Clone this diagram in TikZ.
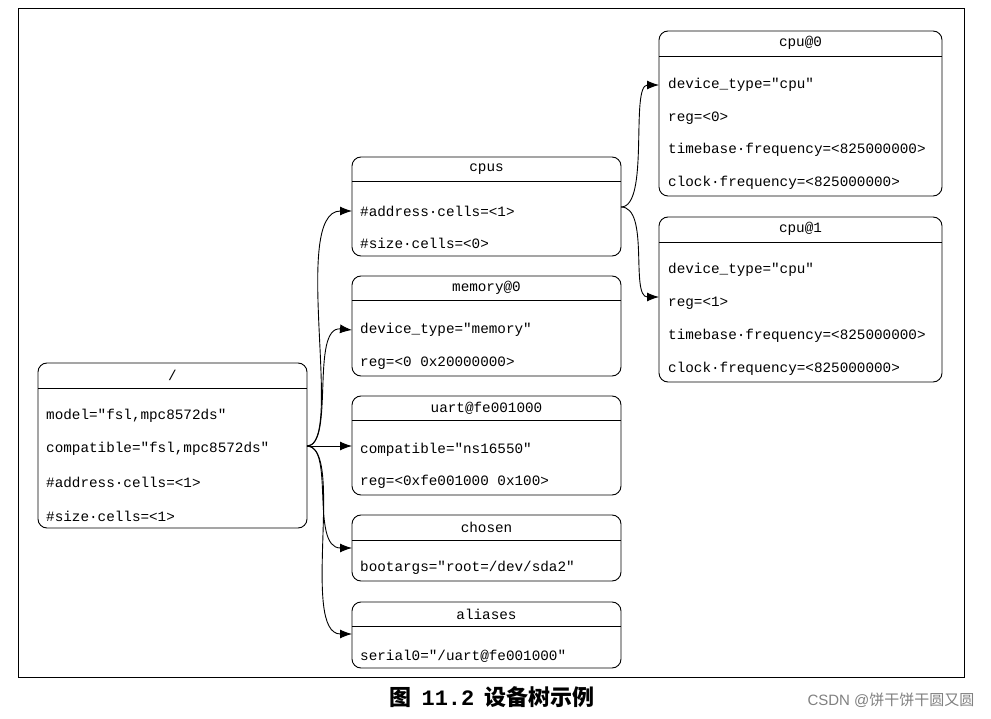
\documentclass[tikz,border=0pt]{standalone}
\usepackage{fontspec}
\setmonofont{Liberation Mono}
\newfontfamily\cjk{Noto Sans CJK SC}
\newfontfamily\csdnf{Liberation Sans}
\usetikzlibrary{arrows.meta}
\begin{document}
\begin{tikzpicture}[x=1pt,y=-1pt,
  box/.style={draw,rounded corners=9pt,line width=0.9pt},
  txt/.style={anchor=west,font=\ttfamily\fontsize{14.3}{15}\selectfont,inner sep=0},
  ttl/.style={anchor=center,font=\ttfamily\fontsize{14.3}{15}\selectfont,inner sep=0},
  arr/.style={line width=0.9pt,-{Latex[length=12pt,width=9pt]}}]
\useasboundingbox (0,0) rectangle (991,719);
\draw[line width=0.9pt] (18,8) rectangle (964,677);
\newcommand\dtbox[6]{\draw[box] (#2,#3) rectangle (#4,#5); \draw[line width=0.9pt] (#2,#6) -- (#4,#6);}
\dtbox{root}{38}{363}{307}{528}{388}
\node[ttl] (root) at (172.5,375) {/};
\node[txt] (r1) at (46,416) {model="fsl,mpc8572ds"};
\node[txt] (r2) at (46,449) {compatible="fsl,mpc8572ds"};
\node[txt] (r3) at (46,482) {\#address·cells=<1>};
\node[txt] (r4) at (46,516) {\#size·cells=<1>};
\coordinate (ro) at (307,446);
\dtbox{cpus}{352}{157}{621}{256}{181}
\node[ttl] (cpus) at (486.5,169) {cpus};
\node[txt] (c1) at (360,211) {\#address·cells=<1>};
\node[txt] (c2) at (360,243) {\#size·cells=<0>};
\dtbox{mem}{352}{276}{621}{376}{300}
\node[ttl] (mem) at (486.5,288) {memory@0};
\node[txt] (m1) at (360,330) {device\_type="memory"};
\node[txt] (m2) at (360,363) {reg=<0 0x20000000>};
\dtbox{uart}{352}{396}{621}{495}{420}
\node[ttl] (uart) at (486.5,408) {uart@fe001000};
\node[txt] (u1) at (360,450) {compatible="ns16550"};
\node[txt] (u2) at (360,482) {reg=<0xfe001000 0x100>};
\dtbox{ch}{352}{515}{621}{581}{540}
\node[ttl] (chosen) at (486.5,527) {chosen};
\node[txt] (h1) at (360,568) {bootargs="root=/dev/sda2"};
\dtbox{al}{352}{602}{621}{668}{626}
\node[ttl] (aliases) at (486.5,614) {aliases};
\node[txt] (a1) at (360,656) {serial0="/uart@fe001000"};
\dtbox{c0}{659}{31}{942}{196}{56}
\node[ttl] (cpu0) at (800.5,43) {cpu@0};
\node[txt] (p1) at (668,85) {device\_type="cpu"};
\node[txt] (p2) at (668,118) {reg=<0>};
\node[txt] (p3) at (668,150) {timebase·frequency=<825000000>};
\node[txt] (p4) at (668,183) {clock·frequency=<825000000>};
\dtbox{c1}{659}{217}{942}{382}{242}
\node[ttl] (cpu1) at (800.5,229) {cpu@1};
\node[txt] (q1) at (668,270) {device\_type="cpu"};
\node[txt] (q2) at (668,303) {reg=<1>};
\node[txt] (q3) at (668,336) {timebase·frequency=<825000000>};
\node[txt] (q4) at (668,369) {clock·frequency=<825000000>};
\coordinate (co) at (621,207);
\draw[arr] (ro) .. controls (345,446) and (290,211) .. ([xshift=-8pt]c1.west);
\draw[arr] (ro) .. controls (335,446) and (310,326) .. ([xshift=-8pt]m1.west);
\draw[arr] (ro) -- ([xshift=-8pt]ro-|u1.west);
\draw[arr] (ro) .. controls (335,446) and (310,548) .. ([xshift=-8pt]h1.west|-0,548);
\draw[arr] (ro) .. controls (345,446) and (300,634) .. ([xshift=-8pt]a1.west|-0,634);
\draw[arr] (co) .. controls (650,207) and (630,85) .. ([xshift=-9pt]p1.west);
\draw[arr] (co) .. controls (650,207) and (630,297) .. ([xshift=-9pt]q2.west|-0,297);
\node[font=\cjk\bfseries\fontsize{22}{24}\selectfont] (cap) at (492,697) {图\ \ {\ttfamily\bfseries 11.2}\ \ 设备树示例};
\node[font=\cjk\fontsize{15}{16}\selectfont,text=gray,anchor=east] (csdn) at (978,700) {{\csdnf CSDN @}饼干饼干圆又圆};
\end{tikzpicture}
\end{document}
